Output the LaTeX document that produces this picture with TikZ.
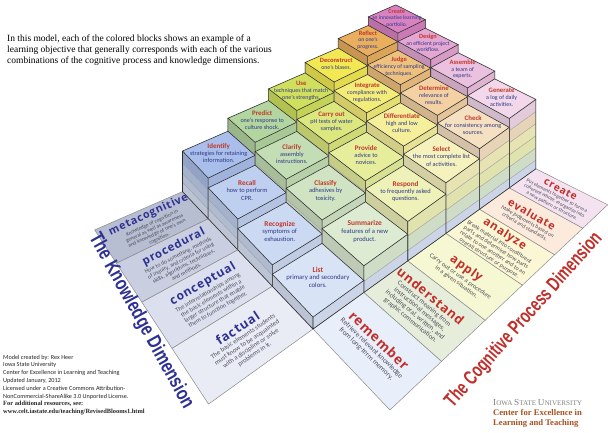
\documentclass[tikz,border=0pt]{standalone}
\usepackage{fontspec}
\usepackage{graphicx}
\setmainfont{Carlito}
\newfontfamily\serifA{Liberation Serif}
\newfontfamily\openS{Open Sans}[LetterSpace=7]
\newfontfamily\arialA{Liberation Sans}

\definecolor{t00}{HTML}{D9E3F6}\definecolor{t01}{HTML}{CCD9F3}\definecolor{t02}{HTML}{BFCFEF}\definecolor{t03}{HTML}{A9BEEA}
\definecolor{t10}{HTML}{DDEBD3}\definecolor{t11}{HTML}{D0E4C4}\definecolor{t12}{HTML}{C3DDB4}\definecolor{t13}{HTML}{B3D59F}
\definecolor{t20}{HTML}{EEF2B8}\definecolor{t21}{HTML}{E6EE9C}\definecolor{t22}{HTML}{DCE77E}\definecolor{t23}{HTML}{D0E05E}
\definecolor{t30}{HTML}{F6F2BE}\definecolor{t31}{HTML}{F5EF9C}\definecolor{t32}{HTML}{F4EC78}\definecolor{t33}{HTML}{F1E853}
\definecolor{t40}{HTML}{F6E0C2}\definecolor{t41}{HTML}{F3D1A2}\definecolor{t42}{HTML}{EFC17F}\definecolor{t43}{HTML}{E9AE5E}
\definecolor{t50}{HTML}{F2D8EA}\definecolor{t51}{HTML}{ECC0DF}\definecolor{t52}{HTML}{E4A6D2}\definecolor{t53}{HTML}{D882C1}
\definecolor{kf0}{HTML}{E9EBF5}\definecolor{kf1}{HTML}{DCE0EE}\definecolor{kf2}{HTML}{C9CFE1}\definecolor{kf3}{HTML}{B7BED2}
\definecolor{cf0}{HTML}{E8EEFA}\definecolor{cf1}{HTML}{E6EEDB}\definecolor{cf2}{HTML}{F6F8D3}
\definecolor{cf3}{HTML}{FBF6D4}\definecolor{cf4}{HTML}{FCEBDC}\definecolor{cf5}{HTML}{F4E2F0}
\definecolor{tred}{HTML}{C0392B}
\definecolor{dblue}{HTML}{2E3A87}
\definecolor{kblue}{HTML}{2E3192}
\definecolor{kgrey}{HTML}{4F4F5C}
\definecolor{cred}{HTML}{C0302A}
\definecolor{edge}{HTML}{2A2A2A}
\definecolor{sline}{HTML}{8C8C8C}
\definecolor{celtc}{HTML}{A8501E}

\def\Mst{1.65}
\def\Lst{1.5}

\tikzset{
  edgeline/.style={draw=edge, line width=0.55pt},
  bandline/.style={draw=edge!45, line width=0.3pt},
  stripline/.style={draw=sline, line width=0.5pt},
  blocktext/.style={align=center, inner sep=0pt},
}

\newcommand\blk[4]{%
  \pgfmathsetmacro\wc{ww(#1+0.5,#2+0.5)}%
  \pgfmathsetmacro\hb{hh(#1,#2)/\wc}%
  \coordinate (A) at ({fx(#1,#2)},{fy(#1,#2)});%
  \coordinate (B) at ({fx(#1+1,#2)},{fy(#1+1,#2)});%
  \coordinate (C) at ({fx(#1+1,#2+1)},{fy(#1+1,#2+1)});%
  \coordinate (D) at ({fx(#1,#2+1)},{fy(#1,#2+1)});%
  \coordinate (M) at ({fx(#1+0.5,#2+0.5)},{fy(#1+0.5,#2+0.5)});%
  \foreach \rr in {0,...,#2}{%
    \pgfmathsetmacro\hlo{ifthenelse(\rr==0,0,hh(#1,\rr-1))/\wc}%
    \pgfmathsetmacro\hhi{hh(#1,\rr)/\wc}%
    \edef\bc{t#1\rr}%
    \path[fill=\bc!86!black, bandline] ([yshift=\hlo pt]D) -- ([yshift=\hlo pt]A) -- ([yshift=\hhi pt]A) -- ([yshift=\hhi pt]D) -- cycle;%
  }%
  \foreach \kk in {0,...,#1}{%
    \pgfmathsetmacro\hlo{ifthenelse(\kk==0,0,hh(\kk-1,#2))/\wc}%
    \pgfmathsetmacro\hhi{hh(\kk,#2)/\wc}%
    \edef\bc{t\kk#2}%
    \path[fill=\bc!94!black, bandline] ([yshift=\hlo pt]A) -- ([yshift=\hlo pt]B) -- ([yshift=\hhi pt]B) -- ([yshift=\hhi pt]A) -- cycle;%
  }%
  \path[fill=t#1#2, edgeline] ([yshift=\hb pt]A) -- ([yshift=\hb pt]B) -- ([yshift=\hb pt]C) -- ([yshift=\hb pt]D) -- cycle;%
  \draw[edgeline] ([yshift=\hb pt]D) -- (D) -- (A) -- (B) -- ([yshift=\hb pt]B) (A) -- ([yshift=\hb pt]A);%
  \pgfmathsetmacro\fs{6.75-1.87*(\wc-1.085)}%
  \pgfmathsetmacro\ft{1.12*\fs}%
  \pgfmathsetmacro\fl{1.15*\fs}%
  \node[blocktext, font=\fontsize{\fs}{\fl}\selectfont, text=dblue] (n#1#2) at ([yshift=\hb pt]M) {{\fontsize{\ft}{\fl}\selectfont\bfseries\color{tred}#3}\\#4};%
}

\newcommand\kstrip[4]{%
  \path[fill=#2, stripline] ({fx(-\Mst,#1)},{fy(-\Mst,#1)}) -- ({fx(0,#1)},{fy(0,#1)}) -- ({fx(0,#1+1)},{fy(0,#1+1)}) -- ({fx(-\Mst,#1+1)},{fy(-\Mst,#1+1)}) -- cycle;%
  \pgfmathsetmacro\sdx{fx(0,#1+0.5)-fx(-\Mst,#1+0.5)}%
  \pgfmathsetmacro\sdy{fy(0,#1+0.5)-fy(-\Mst,#1+0.5)}%
  \pgfmathsetmacro\sang{atan2(-\sdy,\sdx)}%
  \pgfmathsetmacro\wk{ww(-\Mst/2,#1+0.5)}%
  \pgfmathsetmacro\fsT{12.6-7*(\wk-0.979)}%
  \pgfmathsetmacro\fsD{6.6-4.5*(\wk-0.979)}%
  \pgfmathsetmacro\fsL{1.06*\fsD}%
  \node[rotate=\sang, align=center, inner sep=0pt, text=kgrey, font=\fontsize{\fsD}{\fsL}\selectfont] (k#1) at ({fx(-\Mst/2,#1+0.46)},{fy(-\Mst/2,#1+0.46)}) {{\openS\bfseries\fontsize{\fsT}{\fsT}\selectfont\color{kblue}#3}\\[0.2pt]#4};%
}

\newcommand\cstrip[4]{%
  \path[fill=#2, stripline] ({fx(#1,0)},{fy(#1,0)}) -- ({fx(#1+1,0)},{fy(#1+1,0)}) -- ({fx(#1+1,-\Lst)},{fy(#1+1,-\Lst)}) -- ({fx(#1,-\Lst)},{fy(#1,-\Lst)}) -- cycle;%
  \pgfmathsetmacro\sdx{fx(#1+0.5,-\Lst)-fx(#1+0.5,0)}%
  \pgfmathsetmacro\sdy{fy(#1+0.5,-\Lst)-fy(#1+0.5,0)}%
  \pgfmathsetmacro\sang{atan2(-\sdy,\sdx)}%
  \pgfmathsetmacro\wk{ww(#1+0.5,-\Lst/2)}%
  \pgfmathsetmacro\fsT{13.4-8*(\wk-0.9725)}%
  \pgfmathsetmacro\fsD{7.2-5*(\wk-0.9725)}%
  \pgfmathsetmacro\fsL{1.06*\fsD}%
  \node[rotate=\sang, align=center, inner sep=0pt, text=kgrey, font=\fontsize{\fsD}{\fsL}\selectfont] (c#1) at ({fx(#1+0.46,-\Lst/2)},{fy(#1+0.46,-\Lst/2)}) {{\openS\bfseries\fontsize{\fsT}{\fsT}\selectfont\color{cred}#3}\\[0.2pt]#4};%
}

\begin{document}
\begin{tikzpicture}[x=1pt,y=-1pt,
  declare function={
    ww(\x,\y)=1+0.08*\x+0.09*\y;
    fx(\x,\y)=(313+80*\x-16.2*\y)/ww(\x,\y);
    fy(\x,\y)=(329-13.2*\x-17.1*\y)/ww(\x,\y);
    hh(\x,\y)=13+18*\x+11*\y+\y*\y+1.3*\x*\y;
  }]
\path[use as bounding box, fill=white] (0,0) rectangle (608,432);
\clip (0,0) rectangle (608,432);

% knowledge dimension strips
\kstrip{0}{kf0}{factual}{The basic elements students\\must know to be acquainted\\with a discipline or solve\\problems in it.}
\kstrip{1}{kf1}{conceptual}{The interrelationships among\\the basic elements within a\\larger structure that enable\\them to function together.}
\kstrip{2}{kf2}{procedural}{How to do something, methods\\of inquiry, and criteria for using\\skills, algorithms, techniques,\\and methods.}
\kstrip{3}{kf3}{metacognitive}{Knowledge of cognition in\\general as well as awareness\\and knowledge of one's own\\cognition.}

% cognitive process strips
\cstrip{0}{cf0}{remember}{Retrieve relevant knowledge\\from long-term memory.}
\cstrip{1}{cf1}{understand}{Construct meaning from\\instructional messages,\\including oral, written, and\\graphic communication.}
\cstrip{2}{cf2}{apply}{Carry out or use a procedure\\in a given situation.}
\cstrip{3}{cf3}{analyze}{Break material into constituent\\parts and determine how parts\\relate to one another and to an\\overall structure or purpose.}
\cstrip{4}{cf4}{evaluate}{Make judgments based on\\criteria and standards.}
\cstrip{5}{cf5}{create}{Put elements together to form a\\coherent whole; reorganize into\\a new pattern or structure.}

% blocks, back to front
\blk{5}{3}{Create}{an innovative learning\\portfolio.}
\blk{4}{3}{Reflect}{on one's\\progress.}
\blk{5}{2}{Design}{an efficient project\\workflow.}
\blk{3}{3}{Deconstruct}{one's biases.}
\blk{4}{2}{Judge}{efficiency of sampling\\techniques.}
\blk{5}{1}{Assemble}{a team of\\experts.}
\blk{2}{3}{Use}{techniques that match\\one's strengths.}
\blk{3}{2}{Integrate}{compliance with\\regulations.}
\blk{4}{1}{Determine}{relevance of\\results.}
\blk{5}{0}{Generate}{a log of daily\\activities.}
\blk{1}{3}{Predict}{one's response to\\culture shock.}
\blk{2}{2}{Carry out}{pH tests of water\\samples.}
\blk{3}{1}{Differentiate}{high and low\\culture.}
\blk{4}{0}{Check}{for consistency among\\sources.}
\blk{0}{3}{Identify}{strategies for retaining\\information.}
\blk{1}{2}{Clarify}{assembly\\instructions.}
\blk{2}{1}{Provide}{advice to\\novices.}
\blk{3}{0}{Select}{the most complete list\\of activities.}
\blk{0}{2}{Recall}{how to perform\\CPR.}
\blk{1}{1}{Classify}{adhesives by\\toxicity.}
\blk{2}{0}{Respond}{to frequently asked\\questions.}
\blk{0}{1}{Recognize}{symptoms of\\exhaustion.}
\blk{1}{0}{Summarize}{features of a new\\product.}
\blk{0}{0}{List}{primary and secondary\\colors.}

% dimension titles
\node[rotate=-61, inner sep=0pt, text=kblue] (kdim) at (141,321) {\resizebox{197pt}{14.5pt}{\arialA\bfseries The Knowledge Dimension}};
\node[rotate=48.5, inner sep=0pt, text=cred] (cdim) at (524,320) {\resizebox{226pt}{14.5pt}{\arialA\bfseries The Cognitive Process Dimension}};

% intro text
\node[anchor=north west, inner sep=0pt, align=left, font=\serifA\fontsize{9.5}{11}\selectfont] (intro) at (7,34.5) {In this model, each of the colored blocks shows an example of a\\learning objective that generally corresponds with each of the various\\combinations of the cognitive process and knowledge dimensions.};

% credits
\node[anchor=north west, inner sep=0pt, align=left, text=black!85, font=\fontsize{6.2}{7.8}\selectfont] (credits) at (3,354.5) {Model created by: Rex Heer\\Iowa State University\\Center for Excellence in Learning and Teaching\\Updated January, 2012\\Licensed under a Creative Commons Attribution-\\NonCommercial-ShareAlike 3.0 Unported License.\\{\serifA\bfseries\fontsize{6.4}{7.8}\selectfont For additional resources, see:}\\{\serifA\bfseries\fontsize{6.4}{7.8}\selectfont www.celt.iastate.edu/teaching/RevisedBlooms1.html}};

% logo
\node[anchor=base west, inner sep=0pt, text=black!50, font=\serifA] (isu) at (493,405) {\fontsize{9.2}{9.2}\selectfont I\fontsize{7.1}{7.1}\selectfont OWA \fontsize{9.2}{9.2}\selectfont S\fontsize{7.1}{7.1}\selectfont TATE \fontsize{9.2}{9.2}\selectfont U\fontsize{7.1}{7.1}\selectfont NIVERSITY};
\node[anchor=north west, inner sep=0pt, align=left, text=celtc, font=\serifA\bfseries\fontsize{8.6}{9.8}\selectfont] (celt) at (493,409.5) {Center for Excellence in\\Learning and Teaching};
\end{tikzpicture}
\end{document}
